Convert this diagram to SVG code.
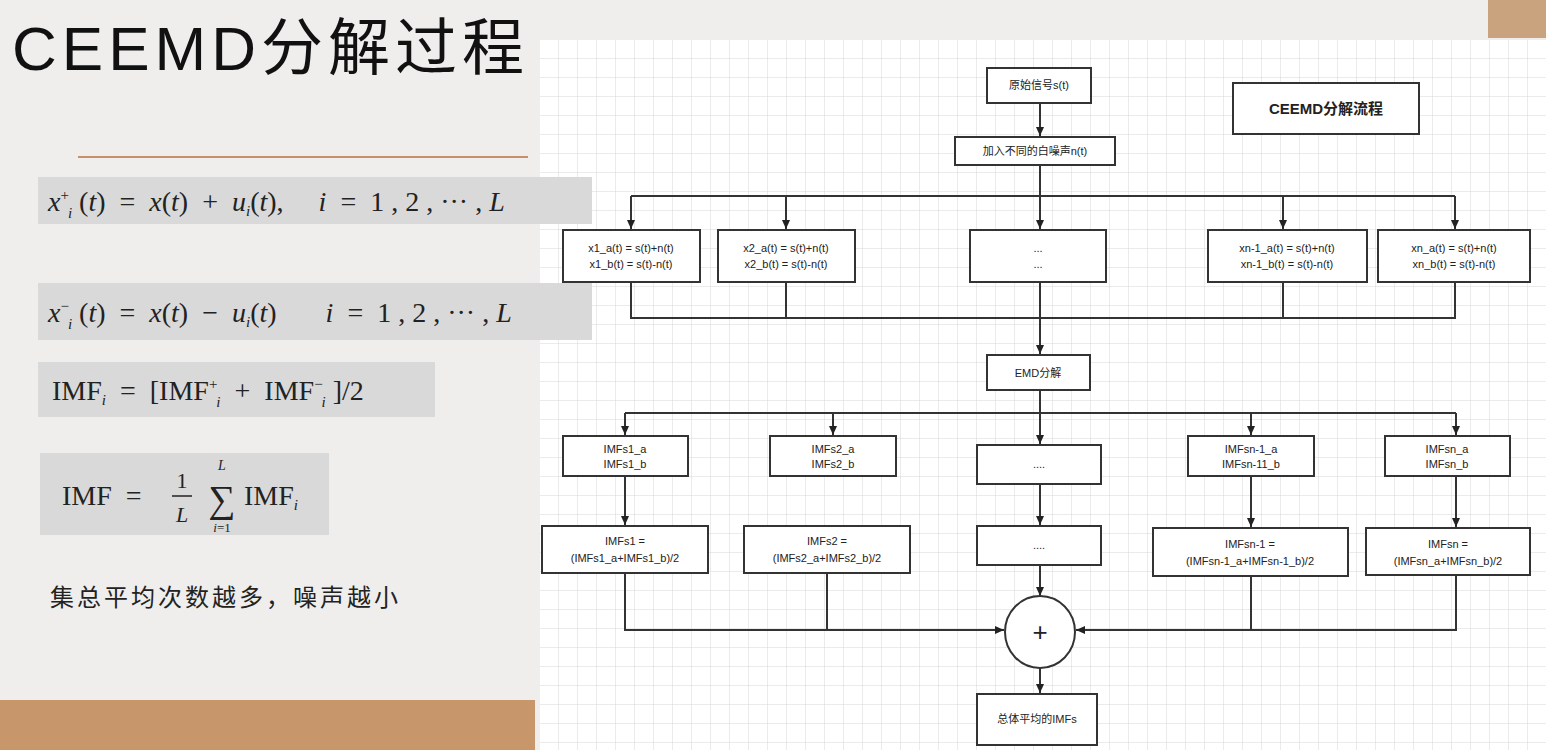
<svg xmlns="http://www.w3.org/2000/svg" width="1546" height="750" viewBox="0 0 1546 750">
<defs>
<pattern id="grid" x="540" y="40" width="19" height="19" patternUnits="userSpaceOnUse">
<path d="M19 0V19H0" fill="none" stroke="#d6d6d6" stroke-width="1"/>
</pattern>
<marker id="ah" markerWidth="10" markerHeight="10" refX="9" refY="5" orient="auto" markerUnits="userSpaceOnUse">
<path d="M0,1 L9,5 L0,9 Z" fill="#222"/>
</marker>
</defs>
<style>
.n{fill:#fff;stroke:#333;stroke-width:2}
.t{font-family:"Liberation Sans","Noto Sans CJK SC",sans-serif;font-size:11px;fill:#222;text-anchor:middle}
.c{fill:none;stroke:#333;stroke-width:2}
.ca{fill:none;stroke:#333;stroke-width:2;marker-end:url(#ah)}
.f{font-family:"Liberation Serif","Noto Sans CJK SC",serif;font-size:28px;fill:#222;white-space:pre}
.fb{fill:#d9d9d9}
</style>
<rect width="1546" height="750" fill="#efeeed"/>
<rect x="0" y="700" width="535" height="50" fill="#c7966b"/>
<rect x="1488" y="0" width="58" height="38" fill="#c9a27e"/>
<rect x="540" y="40" width="1006" height="710" fill="#fff"/>
<rect x="540" y="40" width="1006" height="710" fill="url(#grid)"/>
<text x="12" y="70" font-family="Liberation Sans,'Noto Sans CJK SC',sans-serif" font-size="62" letter-spacing="5" fill="#111">CEEMD分解过程</text>
<line x1="78" y1="157" x2="528" y2="157" stroke="#c8906a" stroke-width="2"/>
<rect class="fb" x="38" y="177" width="554" height="47"/>
<text class="f" x="48" y="211"><tspan font-style="italic">x</tspan><tspan font-size="15" dy="-11">+</tspan><tspan font-size="15" font-style="italic" dx="-1" dy="18">i</tspan><tspan dy="-7"> (</tspan><tspan font-style="italic">t</tspan>)  =  <tspan font-style="italic">x</tspan>(<tspan font-style="italic">t</tspan>)  +  <tspan font-style="italic">u</tspan><tspan font-size="15" font-style="italic" dy="5">i</tspan><tspan dy="-5">(</tspan><tspan font-style="italic">t</tspan>),     <tspan font-style="italic">i</tspan>  =  1 , 2 , ··· , <tspan font-style="italic">L</tspan></text>
<rect class="fb" x="38" y="283" width="554" height="57"/>
<text class="f" x="48" y="322"><tspan font-style="italic">x</tspan><tspan font-size="15" dy="-11">−</tspan><tspan font-size="15" font-style="italic" dx="-1" dy="18">i</tspan><tspan dy="-7"> (</tspan><tspan font-style="italic">t</tspan>)  =  <tspan font-style="italic">x</tspan>(<tspan font-style="italic">t</tspan>)  −  <tspan font-style="italic">u</tspan><tspan font-size="15" font-style="italic" dy="5">i</tspan><tspan dy="-5">(</tspan><tspan font-style="italic">t</tspan>)       <tspan font-style="italic">i</tspan>  =  1 , 2 , ··· , <tspan font-style="italic">L</tspan></text>
<rect class="fb" x="38" y="362" width="397" height="55"/>
<text class="f" x="52" y="400">IMF<tspan font-size="15" font-style="italic" dy="5">i</tspan><tspan dy="-5">  =  [IMF</tspan><tspan font-size="15" dy="-11">+</tspan><tspan font-size="15" font-style="italic" dx="-1" dy="18">i</tspan><tspan dy="-7">  +  IMF</tspan><tspan font-size="15" dy="-11">−</tspan><tspan font-size="15" font-style="italic" dx="-1" dy="18">i</tspan><tspan dy="-7"> ]/2</tspan></text>
<rect class="fb" x="40" y="453" width="289" height="82"/>
<text class="f" x="62" y="505">IMF  =</text>
<text class="f" x="182" y="488" text-anchor="middle" style="font-size:22px">1</text>
<line x1="172" y1="496" x2="192" y2="496" stroke="#222" stroke-width="1.5"/>
<text class="f" x="182" y="522" text-anchor="middle" font-style="italic" style="font-size:22px">L</text>
<text class="f" x="222" y="512" text-anchor="middle" style="font-size:38px">∑</text>
<text class="f" x="222" y="470" text-anchor="middle" font-style="italic" style="font-size:14px">L</text>
<text class="f" x="222" y="532" text-anchor="middle" style="font-size:13px"><tspan font-style="italic">i</tspan>=1</text>
<text class="f" x="244" y="505">IMF<tspan font-size="15" font-style="italic" dy="5">i</tspan></text>
<text x="50" y="606" font-family="'Noto Sans CJK SC',sans-serif" font-size="24" fill="#222" letter-spacing="3">集总平均次数越多，噪声越小</text>

<g id="connectors">
<path class="ca" d="M1040,103V136"/>
<path class="c" d="M631,196H1455"/>
<path class="ca" d="M631,196V229"/>
<path class="ca" d="M786,196V229"/>
<path class="ca" d="M1040,165V229"/>
<path class="ca" d="M1283,196V229"/>
<path class="ca" d="M1455,196V229"/>
<path class="c" d="M631,282V318H1455V282M786,282V318M1283,282V318"/>
<path class="ca" d="M1040,282V354"/>
<path class="c" d="M1040,390V413M625,413H1456"/>
<path class="ca" d="M625,413V435"/>
<path class="ca" d="M833,413V435"/>
<path class="ca" d="M1040,413V444"/>
<path class="ca" d="M1251,413V435"/>
<path class="ca" d="M1456,413V435"/>
<path class="ca" d="M625,476V525"/>
<path class="ca" d="M1040,484V525"/>
<path class="ca" d="M1251,476V527"/>
<path class="ca" d="M1456,476V527"/>
<path class="ca" d="M625,573V630H1004"/>
<path class="c" d="M827,573V630"/>
<path class="ca" d="M1456,575V630H1076"/>
<path class="c" d="M1251,576V630"/>
<path class="ca" d="M1040,565V596"/>
<path class="ca" d="M1040,668V693"/>
</g>

<g id="n_src"><rect class="n" x="987" y="68" width="104" height="35"/><text class="t" x="1039" y="89">原始信号s(t)</text></g>
<g id="n_title"><rect class="n" x="1233" y="83" width="186" height="51"/><text class="t" x="1326" y="114" style="font-size:15px;font-weight:bold">CEEMD分解流程</text></g>
<g id="n_noise"><rect class="n" x="955" y="137" width="160" height="28"/><text class="t" x="1035" y="155">加入不同的白噪声n(t)</text></g>
<g id="n_x1"><rect class="n" x="563" y="230" width="137" height="52"/><text class="t" x="631" y="252">x1_a(t) = s(t)+n(t)</text><text class="t" x="631" y="268">x1_b(t) = s(t)-n(t)</text></g>
<g id="n_x2"><rect class="n" x="718" y="230" width="137" height="52"/><text class="t" x="786" y="252">x2_a(t) = s(t)+n(t)</text><text class="t" x="786" y="268">x2_b(t) = s(t)-n(t)</text></g>
<g id="n_x3"><rect class="n" x="970" y="230" width="136" height="52"/><text class="t" x="1038" y="252">...</text><text class="t" x="1038" y="268">...</text></g>
<g id="n_x4"><rect class="n" x="1208" y="230" width="159" height="52"/><text class="t" x="1287" y="252">xn-1_a(t) = s(t)+n(t)</text><text class="t" x="1287" y="268">xn-1_b(t) = s(t)-n(t)</text></g>
<g id="n_x5"><rect class="n" x="1378" y="230" width="152" height="52"/><text class="t" x="1454" y="252">xn_a(t) = s(t)+n(t)</text><text class="t" x="1454" y="268">xn_b(t) = s(t)-n(t)</text></g>
<g id="n_emd"><rect class="n" x="987" y="355" width="103" height="35"/><text class="t" x="1038" y="377">EMD分解</text></g>
<g id="n_i1"><rect class="n" x="563" y="436" width="125" height="40"/><text class="t" x="625" y="453">IMFs1_a</text><text class="t" x="625" y="468">IMFs1_b</text></g>
<g id="n_i2"><rect class="n" x="770" y="436" width="126" height="40"/><text class="t" x="833" y="453">IMFs2_a</text><text class="t" x="833" y="468">IMFs2_b</text></g>
<g id="n_i3"><rect class="n" x="977" y="445" width="124" height="39"/><text class="t" x="1039" y="468">....</text></g>
<g id="n_i4"><rect class="n" x="1188" y="436" width="126" height="40"/><text class="t" x="1251" y="453">IMFsn-1_a</text><text class="t" x="1251" y="468">IMFsn-11_b</text></g>
<g id="n_i5"><rect class="n" x="1385" y="436" width="125" height="40"/><text class="t" x="1447" y="453">IMFsn_a</text><text class="t" x="1447" y="468">IMFsn_b</text></g>
<g id="n_m1"><rect class="n" x="542" y="526" width="166" height="47"/><text class="t" x="625" y="545">IMFs1 =</text><text class="t" x="625" y="562">(IMFs1_a+IMFs1_b)/2</text></g>
<g id="n_m2"><rect class="n" x="744" y="526" width="166" height="47"/><text class="t" x="827" y="545">IMFs2 =</text><text class="t" x="827" y="562">(IMFs2_a+IMFs2_b)/2</text></g>
<g id="n_m3"><rect class="n" x="977" y="526" width="124" height="39"/><text class="t" x="1039" y="549">....</text></g>
<g id="n_m4"><rect class="n" x="1153" y="528" width="195" height="48"/><text class="t" x="1250" y="548">IMFsn-1 =</text><text class="t" x="1250" y="565">(IMFsn-1_a+IMFsn-1_b)/2</text></g>
<g id="n_m5"><rect class="n" x="1366" y="528" width="164" height="47"/><text class="t" x="1448" y="548">IMFsn =</text><text class="t" x="1448" y="565">(IMFsn_a+IMFsn_b)/2</text></g>
<g id="n_sum"><ellipse class="n" cx="1040" cy="632" rx="35" ry="36"/><text class="t" x="1040" y="641" style="font-size:26px">+</text></g>
<g id="n_out"><rect class="n" x="977" y="694" width="120" height="51"/><text class="t" x="1037" y="723">总体平均的IMFs</text></g>
</svg>
